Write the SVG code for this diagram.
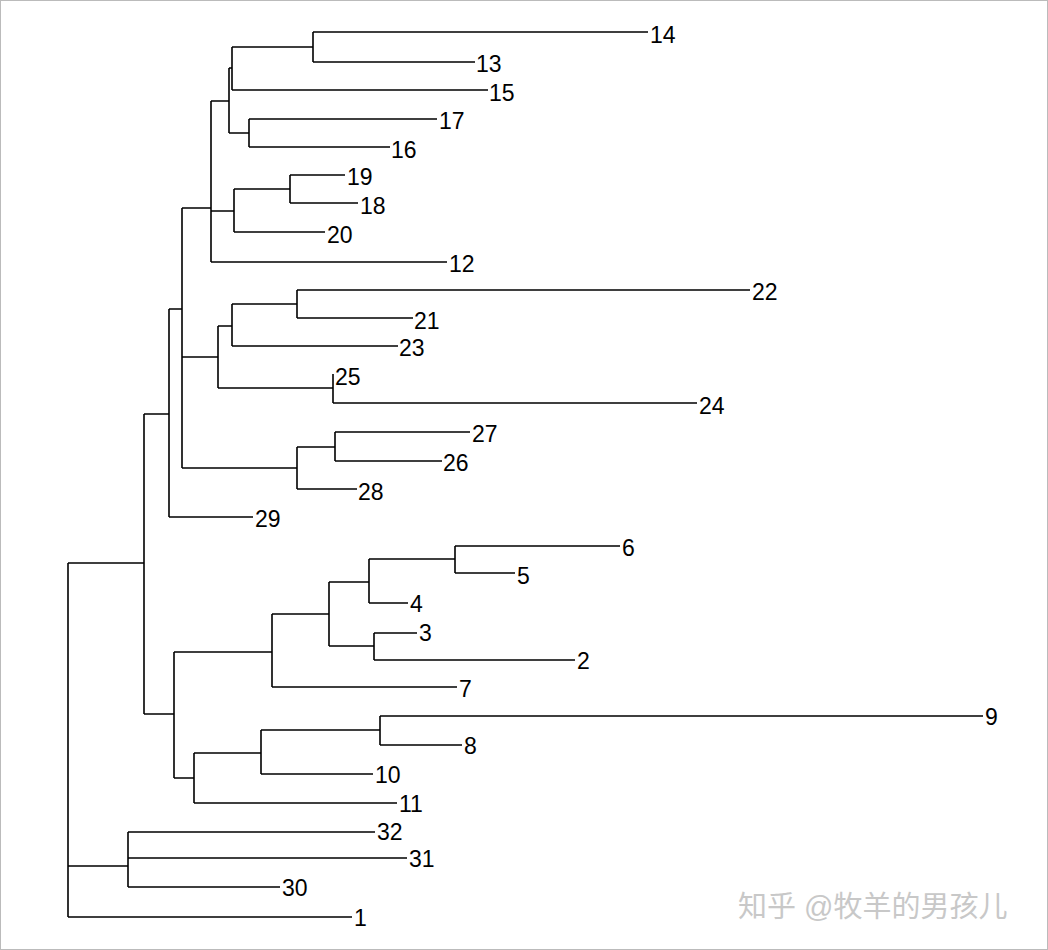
<svg xmlns="http://www.w3.org/2000/svg" width="1048" height="950" viewBox="0 0 1048 950">
<style>
.e{fill:none;stroke:#000;stroke-width:1.6}
.l{font-family:"Liberation Sans",Arial,sans-serif;font-size:23px;fill:#000}
.w{font-family:"Liberation Sans","Noto Sans CJK SC",sans-serif;font-size:29px;fill:#c8c8c8}
</style>
<rect x="0.5" y="0.5" width="1047" height="949" fill="#fff" stroke="#bbb"/>
<g id="connectors">
<path class="e" d="M68,563V917M68,563H144M68,866H128M68,917H352
M128,832V887M128,832H375M128,858H407M128,887H280
M144,414V714M144,414H169M144,714H174
M169,309V517M169,309H182M169,517H253
M182,208V468M182,208H211M182,357H218M182,468H297
M211,101V262M211,101H229M211,211H234M211,262H447
M229,68V133M229,68H232M229,133H249
M232,47V90M232,47H313M232,90H488
M313,32V62M313,32H648M313,62H475
M249,119V147M249,119H437M249,147H390
M234,189V232M234,189H290M234,232H325
M290,175V203M290,175H345M290,203H358
M218,326V388M218,326H232M218,388H333
M232,304V346M232,304H297M232,346H398
M297,290V318M297,290H750M297,318H413
M333,374V403M333,403H697
M297,447V489M297,447H335M297,489H357
M335,432V461M335,432H470M335,461H442
M174,652V778M174,652H272M174,778H194
M272,614V687M272,614H329M272,687H457
M329,582V646M329,582H369M329,646H374
M369,559V603M369,559H455M369,603H408
M455,546V573M455,546H620M455,573H515
M374,633V660M374,633H417M374,660H575
M194,753V803M194,753H261M194,803H397
M261,730V774M261,730H380M261,774H373
M380,716V745M380,716H983M380,745H462"/>
</g>
<g id="labels">
<text class="l" x="650" y="43">14</text>
<text class="l" x="476" y="72">13</text>
<text class="l" x="489" y="101">15</text>
<text class="l" x="439" y="129">17</text>
<text class="l" x="391" y="158">16</text>
<text class="l" x="347" y="185">19</text>
<text class="l" x="360" y="214">18</text>
<text class="l" x="327" y="243">20</text>
<text class="l" x="449" y="272">12</text>
<text class="l" x="752" y="300">22</text>
<text class="l" x="414" y="329">21</text>
<text class="l" x="399" y="356">23</text>
<text class="l" x="335" y="385">25</text>
<text class="l" x="699" y="414">24</text>
<text class="l" x="472" y="442">27</text>
<text class="l" x="443" y="471">26</text>
<text class="l" x="358" y="500">28</text>
<text class="l" x="255" y="527">29</text>
<text class="l" x="622" y="556">6</text>
<text class="l" x="517" y="584">5</text>
<text class="l" x="410" y="612">4</text>
<text class="l" x="419" y="641">3</text>
<text class="l" x="577" y="669">2</text>
<text class="l" x="459" y="697">7</text>
<text class="l" x="985" y="725">9</text>
<text class="l" x="464" y="754">8</text>
<text class="l" x="375" y="783">10</text>
<text class="l" x="399" y="812">11</text>
<text class="l" x="377" y="840">32</text>
<text class="l" x="409" y="867">31</text>
<text class="l" x="282" y="896">30</text>
<text class="l" x="354" y="926">1</text>
</g>
<text class="w" x="738" y="917">知乎 @牧羊的男孩儿</text>
</svg>
